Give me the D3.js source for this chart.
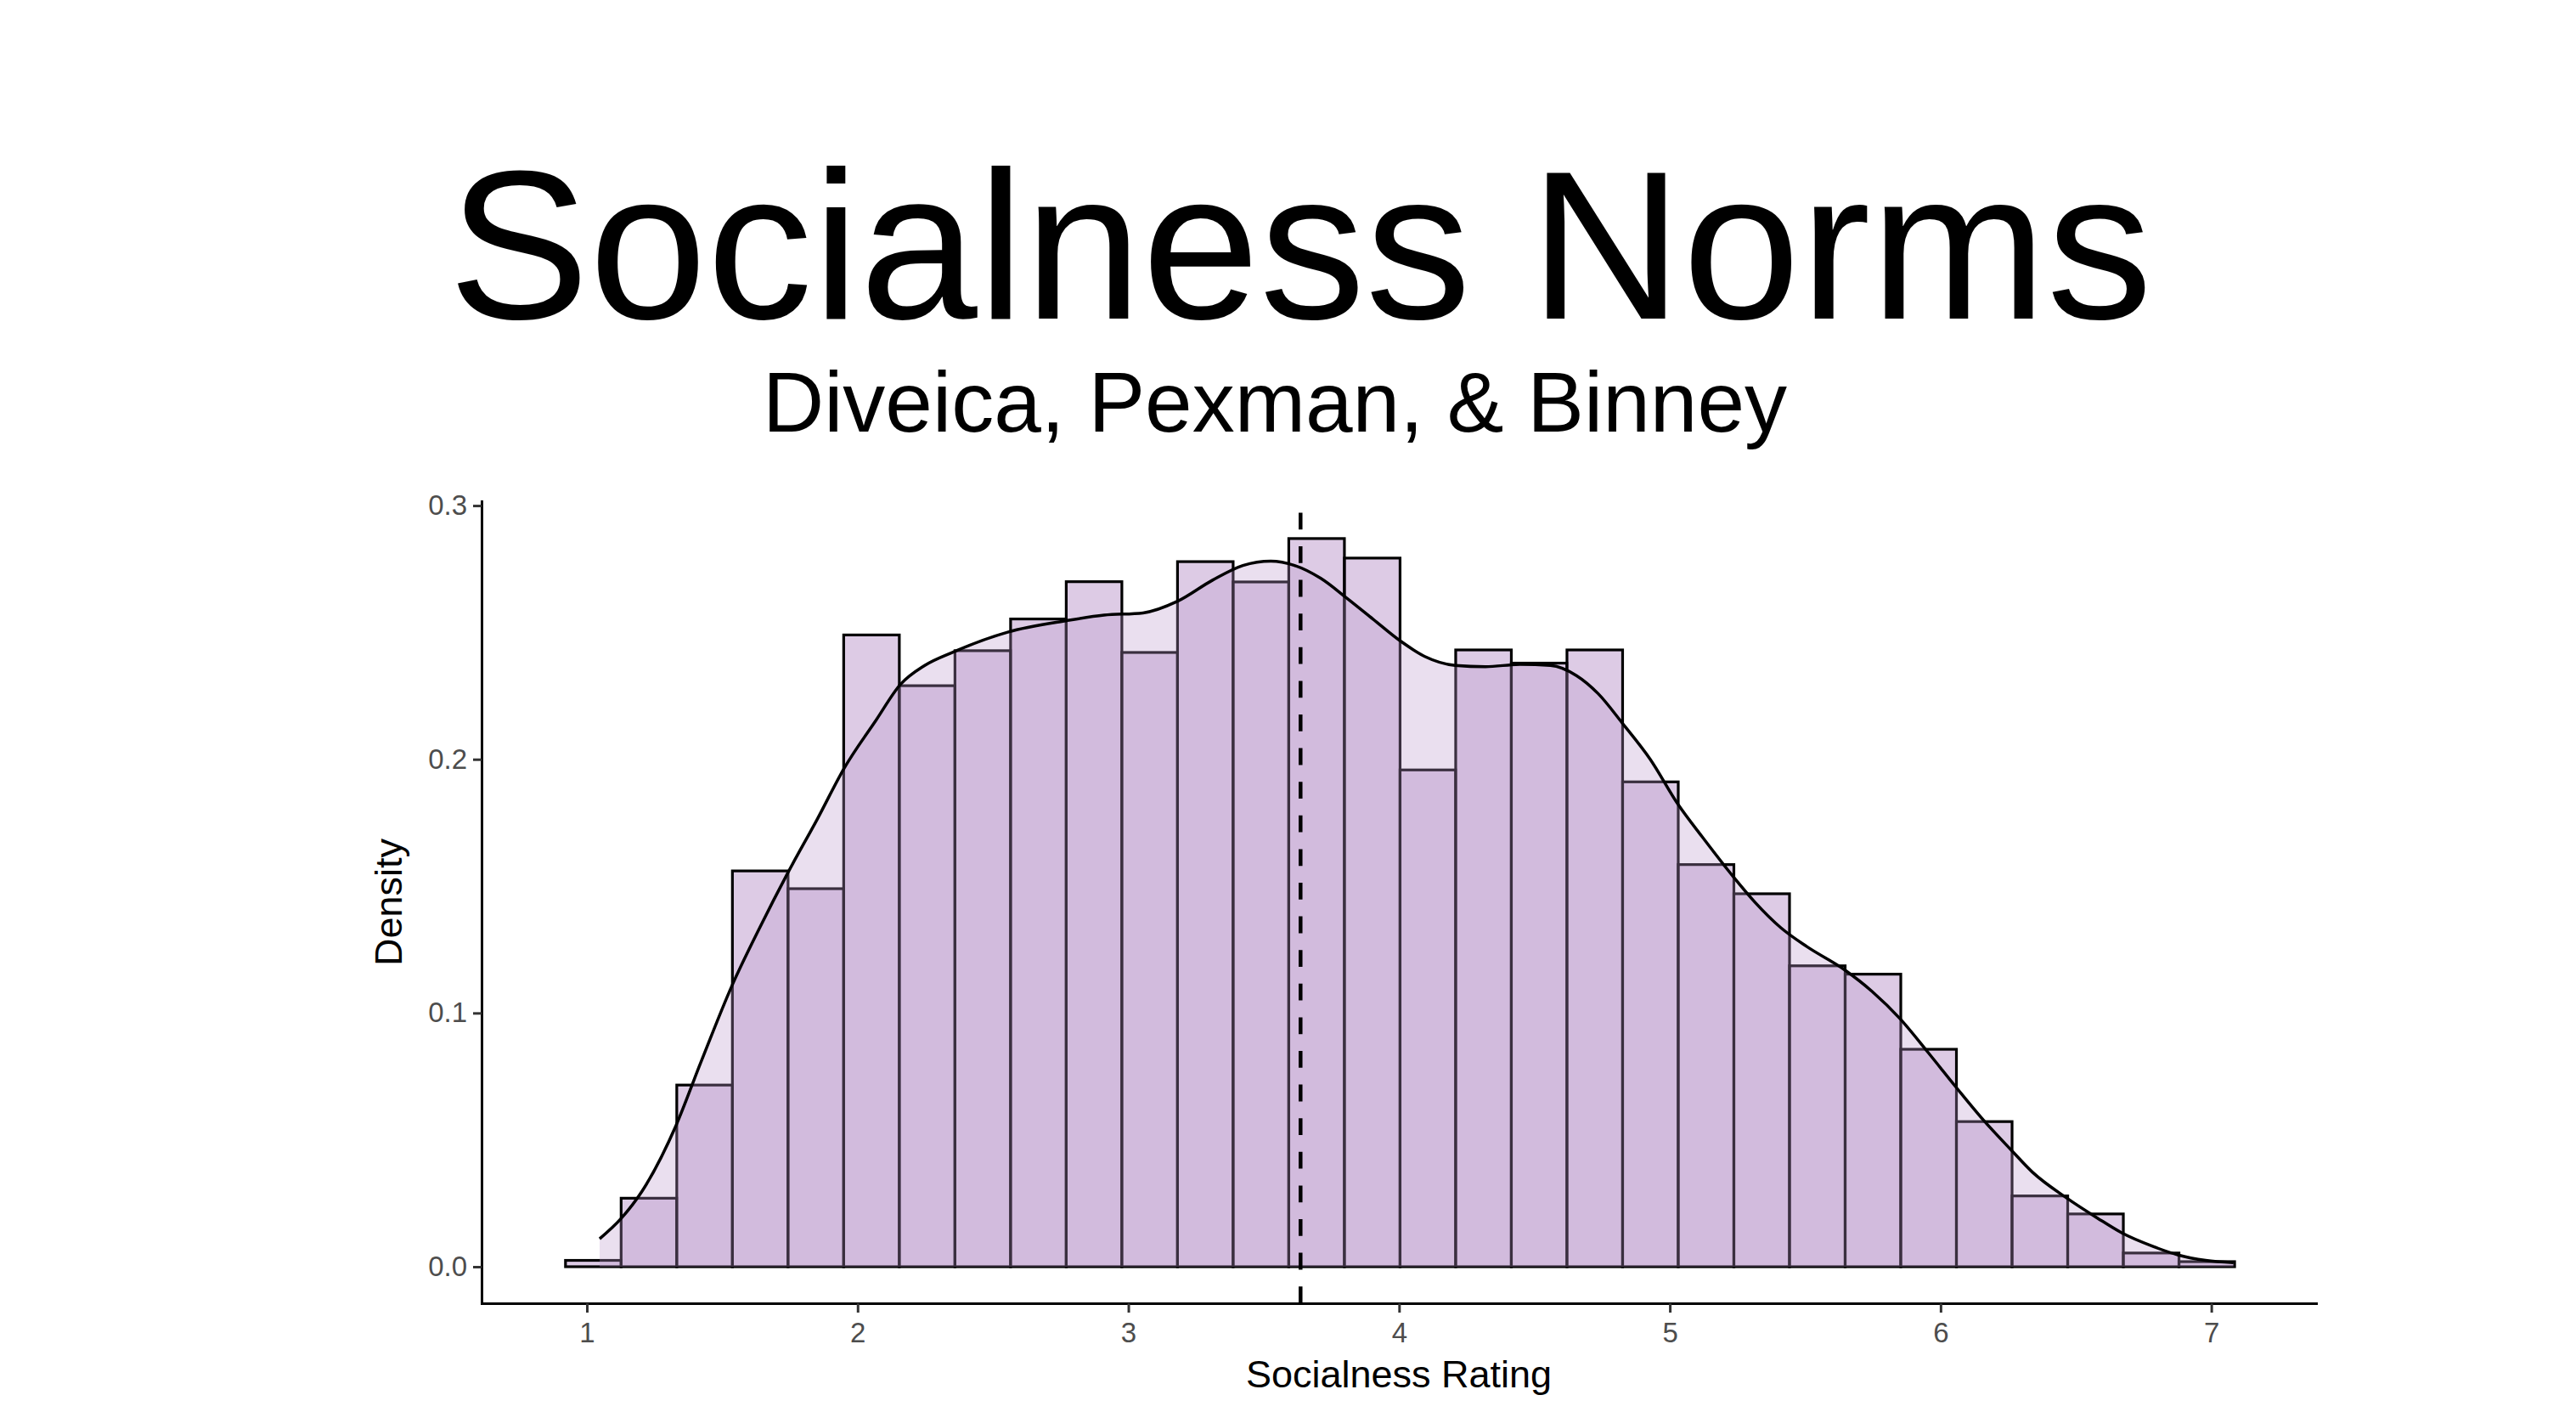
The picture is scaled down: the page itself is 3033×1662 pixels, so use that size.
<!DOCTYPE html>
<html>
<head>
<meta charset="utf-8">
<script src="https://cdn.jsdelivr.net/npm/d3@7"></script>
<style>
  body { margin: 0; background: #ffffff; }
  svg { display: block; font-family: "Liberation Sans", Arial, Helvetica, sans-serif; }
  .tick-label { fill: #4d4d4d; font-size: 33px; }
  .axis-title { fill: #000000; font-size: 45px; }
</style>
</head>
<body>
<div id="chart"></div>
<script>
// histogram bins (density per bin)
const binStart = 0.921;
const binWidth = 0.2055;
const binDensity = [
  0.0025, 0.027, 0.0716, 0.156, 0.149, 0.249, 0.229, 0.2428, 0.2553, 0.270,
  0.2421, 0.2779, 0.2699, 0.287, 0.2793, 0.1958, 0.2431, 0.2379, 0.2431, 0.1911,
  0.1585, 0.147, 0.1186, 0.1153, 0.0857, 0.0572, 0.0279, 0.0208, 0.0054, 0.002
];

// kernel density curve
const densityX = [
  1.047, 1.128, 1.204, 1.329, 1.420, 1.536, 1.636, 1.743, 1.852, 1.951,
  2.068, 2.158, 2.248, 2.356, 2.554, 2.770, 2.910, 3.054, 3.182, 3.311,
  3.423, 3.526, 3.614, 3.711, 3.807, 3.903, 4.005, 4.095, 4.207, 4.319,
  4.447, 4.559, 4.655, 4.735, 4.825, 4.927, 5.033, 5.119, 5.236, 5.314,
  5.410, 5.507, 5.643, 5.747, 5.849, 5.955, 6.056, 6.163, 6.259, 6.339,
  6.467, 6.579, 6.670, 6.787, 6.878, 6.979, 7.082
];
const densityY = [
  0.011, 0.0192, 0.0298, 0.0556, 0.0803, 0.1108, 0.1331, 0.1554, 0.1766, 0.1966,
  0.2154, 0.2295, 0.237, 0.2424, 0.2501, 0.2546, 0.2568, 0.2577, 0.2623, 0.2706,
  0.2764, 0.2781, 0.2764, 0.2713, 0.2635, 0.2553, 0.2466, 0.2405, 0.237, 0.2365,
  0.2374, 0.237, 0.233, 0.2259, 0.2142, 0.2001, 0.1818, 0.1695, 0.1535, 0.1437,
  0.1336, 0.1261, 0.1172, 0.1085, 0.0979, 0.0843, 0.0709, 0.0572, 0.0462, 0.0373,
  0.027, 0.0192, 0.0133, 0.0079, 0.0046, 0.0025, 0.0016
];

const meanRating = 3.636;
const xTicks = [1, 2, 3, 4, 5, 6, 7];
const yTicks = [0.0, 0.1, 0.2, 0.3];

const WIDTH = 3033;
const HEIGHT = 1662;
const PANEL = { LEFT: 567, RIGHT: 2727, TOP: 590, BOTTOM: 1534 };
const FILL = "rgb(188,152,204)";

const svg = d3.select("#chart")
  .append("svg")
    .attr("width", WIDTH)
    .attr("height", HEIGHT);

svg.append("rect")
  .attr("width", WIDTH)
  .attr("height", HEIGHT)
  .attr("fill", "#ffffff");

// titles
svg.append("text")
  .attr("x", 1531)
  .attr("y", 375)
  .attr("text-anchor", "middle")
  .attr("font-size", 249)
  .text("Socialness Norms");

svg.append("text")
  .attr("x", 1501)
  .attr("y", 508)
  .attr("text-anchor", "middle")
  .attr("font-size", 100)
  .text("Diveica, Pexman, & Binney");

// scales
const x = d3.scaleLinear()
  .domain([0.611, 7.387])
  .range([PANEL.LEFT, PANEL.RIGHT]);

const y = d3.scaleLinear()
  .domain([-0.0144, 0.3017])
  .range([PANEL.BOTTOM, PANEL.TOP]);

const bins = binDensity.map((d, i) => ({
  x0: binStart + i * binWidth,
  x1: binStart + (i + 1) * binWidth,
  value: d
}));

// histogram bars
svg.append("g")
  .selectAll("rect")
  .data(bins)
  .enter()
  .append("rect")
    .attr("x", d => x(d.x0))
    .attr("y", d => y(d.value))
    .attr("width", d => x(d.x1) - x(d.x0))
    .attr("height", d => y(0) - y(d.value))
    .attr("fill", FILL)
    .attr("fill-opacity", 0.5)
    .attr("stroke", "#000000")
    .attr("stroke-width", 3.2);

// density area + line
const densityData = densityX.map((d, i) => [d, densityY[i]]);

const area = d3.area()
  .x(d => x(d[0]))
  .y0(y(0))
  .y1(d => y(d[1]))
  .curve(d3.curveMonotoneX);

const line = d3.line()
  .x(d => x(d[0]))
  .y(d => y(d[1]))
  .curve(d3.curveMonotoneX);

svg.append("path")
  .datum(densityData)
  .attr("d", area)
  .attr("fill", FILL)
  .attr("fill-opacity", 0.31);

svg.append("path")
  .datum(densityData)
  .attr("d", line)
  .attr("fill", "none")
  .attr("stroke", "#000000")
  .attr("stroke-width", 3.5);

// mean line, dashes start from the bottom
svg.append("line")
  .attr("x1", x(meanRating))
  .attr("x2", x(meanRating))
  .attr("y1", PANEL.BOTTOM)
  .attr("y2", PANEL.TOP)
  .attr("stroke", "#000000")
  .attr("stroke-width", 4.5)
  .attr("stroke-dasharray", "19.8,19.8");

// axes
const xAxisCall = d3.axisBottom(x)
  .tickValues(xTicks)
  .tickFormat(d3.format("d"))
  .tickSize(11)
  .tickSizeOuter(0)
  .tickPadding(12);

const xAxis = svg.append("g")
  .attr("transform", `translate(0, ${PANEL.BOTTOM})`)
  .call(xAxisCall);

const yAxisCall = d3.axisLeft(y)
  .tickValues(yTicks)
  .tickFormat(d3.format(".1f"))
  .tickSize(10)
  .tickSizeOuter(0)
  .tickPadding(7);

const yAxis = svg.append("g")
  .attr("transform", `translate(${PANEL.LEFT}, 0)`)
  .call(yAxisCall);

[xAxis, yAxis].forEach(g => {
  g.attr("font-family", null).attr("font-size", null);
  g.select(".domain")
    .attr("stroke", "#000000")
    .attr("stroke-width", 3)
    .attr("stroke-linecap", "square");
  g.selectAll(".tick line")
    .attr("stroke", "#333333")
    .attr("stroke-width", 3);
  g.selectAll(".tick text")
    .attr("class", "tick-label")
    .attr("fill", null);
});

// axis titles
svg.append("text")
  .attr("class", "axis-title")
  .attr("x", (PANEL.LEFT + PANEL.RIGHT) / 2)
  .attr("y", 1633)
  .attr("text-anchor", "middle")
  .text("Socialness Rating");

svg.append("text")
  .attr("class", "axis-title")
  .attr("transform", `translate(473, ${(PANEL.TOP + PANEL.BOTTOM) / 2}) rotate(-90)`)
  .attr("text-anchor", "middle")
  .text("Density");
</script>
</body>
</html>
